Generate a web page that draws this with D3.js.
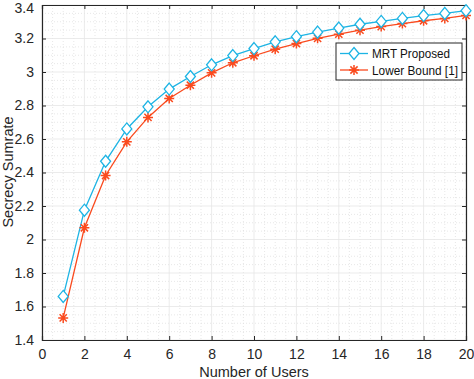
<!DOCTYPE html>
<html><head><meta charset="utf-8">
<script src="https://cdn.jsdelivr.net/npm/d3@7"></script>
<style>
html,body{margin:0;padding:0;background:#fff;}
text{font-family:"Liberation Sans",Arial,Helvetica,sans-serif;}
</style></head>
<body><svg id="c" width="474" height="379"></svg>
<script>
const users = [1,2,3,4,5,6,7,8,9,10,11,12,13,14,15,16,17,18,19,20];
const mrtProposed = [1.66,2.175,2.467,2.66,2.792,2.898,2.973,3.043,3.098,3.14,3.18,3.211,3.238,3.262,3.285,3.302,3.32,3.337,3.35,3.366];
const lowerBound = [1.532,2.07,2.382,2.583,2.729,2.842,2.921,2.995,3.055,3.097,3.136,3.17,3.201,3.226,3.25,3.271,3.289,3.306,3.32,3.338];
const xTicks = [0,2,4,6,8,10,12,14,16,18,20];
const yTicks = [1.4,1.6,1.8,2,2.2,2.4,2.6,2.8,3,3.2,3.4];
const seriesNames = ["MRT Proposed","Lower Bound [1]"];

const svg = d3.select("#c");
const L=42, R=466, T=5, B=340;
const x = d3.scaleLinear().domain([0,20]).range([L,R]);
const y = d3.scaleLinear().domain([1.4,3.4]).range([B,T]);
const cBlue="#1db4e4", cRed="#fa4a1e", axisCol="#262626";

const g = svg.append("g");
// minor grid
const xMinor = d3.range(0,20.001,0.5).filter(v=>Math.abs(v/2-Math.round(v/2))>1e-6);
const yMinor = d3.range(1.4,3.4001,0.05).filter(v=>Math.abs(v/0.2-Math.round(v/0.2))>1e-6);
g.selectAll(".xm").data(xMinor).enter().append("line")
 .attr("x1",d=>x(d)).attr("x2",d=>x(d)).attr("y1",T).attr("y2",B)
 .attr("stroke","#dcdcdc").attr("stroke-width",0.7).attr("stroke-dasharray","1,2");
g.selectAll(".ym").data(yMinor).enter().append("line")
 .attr("y1",d=>y(d)).attr("y2",d=>y(d)).attr("x1",L).attr("x2",R)
 .attr("stroke","#dcdcdc").attr("stroke-width",0.7).attr("stroke-dasharray","1,2");
// major grid
g.selectAll(".xg").data(xTicks).enter().append("line")
 .attr("x1",d=>x(d)).attr("x2",d=>x(d)).attr("y1",T).attr("y2",B)
 .attr("stroke","#e6e6e6").attr("stroke-width",0.8);
g.selectAll(".yg").data(yTicks).enter().append("line")
 .attr("y1",d=>y(d)).attr("y2",d=>y(d)).attr("x1",L).attr("x2",R)
 .attr("stroke","#e6e6e6").attr("stroke-width",0.8);

// axes
const fmt = d=>d3.format("")(+d.toFixed(1));
const xAxis = d3.axisBottom(x).tickValues(xTicks).tickSize(-4).tickPadding(9).tickFormat(d=>d);
const yAxis = d3.axisLeft(y).tickValues(yTicks).tickSize(-4).tickPadding(8).tickFormat(fmt);
const gx = svg.append("g").attr("transform",`translate(0,${B})`).call(xAxis);
const gy = svg.append("g").attr("transform",`translate(${L},0)`).call(yAxis);
const gxt = svg.append("g").attr("transform",`translate(0,${T})`).call(d3.axisTop(x).tickValues(xTicks).tickSize(-4).tickFormat(""));
const gyr = svg.append("g").attr("transform",`translate(${R},0)`).call(d3.axisRight(y).tickValues(yTicks).tickSize(-4).tickFormat(""));
[gx,gy,gxt,gyr].forEach(a=>{
  a.select(".domain").attr("stroke",axisCol).attr("stroke-width",1.2);
  a.selectAll(".tick line").attr("stroke",axisCol).attr("stroke-width",1);
  a.selectAll(".tick text").attr("fill","#262626").style("font-size","14px").style("font-family","'Liberation Sans',Arial,sans-serif");
});
// keep top tick label inside picture
gy.selectAll(".tick text").filter(d=>d===3.4).attr("dy","0.5em");

// lines
const line = d3.line().x((d,i)=>x(users[i])).y(d=>y(d));
svg.append("path").datum(mrtProposed).attr("d",line).attr("fill","none").attr("stroke",cBlue).attr("stroke-width",1.3);
svg.append("path").datum(lowerBound).attr("d",line).attr("fill","none").attr("stroke",cRed).attr("stroke-width",1.3);

function diamond(sel,cx,cy){
  sel.append("path").attr("d",`M${cx},${cy-6}L${cx+5},${cy}L${cx},${cy+6}L${cx-5},${cy}Z`)
   .attr("fill","#fff").attr("stroke",cBlue).attr("stroke-width",1.3);
}
function star(sel,cx,cy){
  const r=5, r2=3.6;
  sel.append("path").attr("d",`M${cx-r},${cy}L${cx+r},${cy}M${cx},${cy-r}L${cx},${cy+r}M${cx-r2},${cy-r2}L${cx+r2},${cy+r2}M${cx-r2},${cy+r2}L${cx+r2},${cy-r2}`)
   .attr("stroke",cRed).attr("stroke-width",1.5).attr("fill","none");
}
const mk = svg.append("g");
lowerBound.forEach((v,i)=>star(mk,x(users[i]),y(v)));
mrtProposed.forEach((v,i)=>diamond(mk,x(users[i]),y(v)));

// legend
const lg = svg.append("g");
lg.append("rect").attr("x",336).attr("y",43).attr("width",126).attr("height",37)
  .attr("fill","#fff").attr("stroke","#262626").attr("stroke-width",1);
lg.append("line").attr("x1",340).attr("x2",368).attr("y1",53.5).attr("y2",53.5).attr("stroke",cBlue).attr("stroke-width",1.3);
diamond(lg,354,53.5);
lg.append("line").attr("x1",340).attr("x2",368).attr("y1",70).attr("y2",70).attr("stroke",cRed).attr("stroke-width",1.3);
star(lg,354,70);
lg.append("text").attr("x",372).attr("y",58).text(seriesNames[0]).style("font-size","12.5px").attr("fill","#111")
  .attr("textLength",78).attr("lengthAdjust","spacingAndGlyphs");
lg.append("text").attr("x",372).attr("y",74.5).text(seriesNames[1]).style("font-size","12.5px").attr("fill","#111")
  .attr("textLength",86).attr("lengthAdjust","spacingAndGlyphs");

// axis labels
svg.append("text").attr("x",254).attr("y",377).attr("text-anchor","middle").style("font-size","14.5px").attr("fill","#262626").text("Number of Users");
svg.append("text").attr("transform","translate(13,172) rotate(-90)").attr("text-anchor","middle").style("font-size","14.5px").attr("fill","#262626").text("Secrecy Sumrate");
</script></body></html>
